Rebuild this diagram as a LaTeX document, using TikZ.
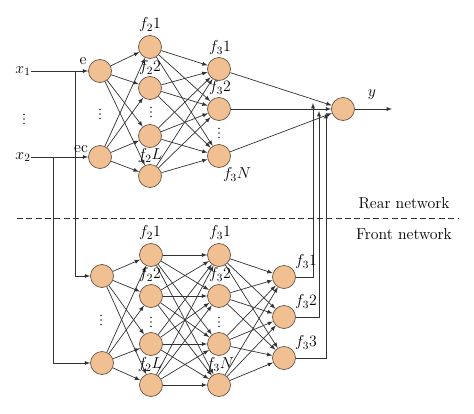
\documentclass[tikz,border=0pt]{standalone}
\usepackage{fix-cm}
\usepackage{tikz}
\usetikzlibrary{positioning}
\definecolor{nodefill}{RGB}{240,192,146}
\definecolor{nodeline}{RGB}{105,85,70}
\definecolor{wire}{RGB}{50,50,50}
\tikzset{
	neuron/.style={draw=nodeline, circle, inner sep=0pt, minimum size=0.69cm, fill=nodefill, line width=0.6pt},
	% labels next to the neurons
	lbl/.style={inner sep=0pt, font=\fontsize{13.5}{15}\selectfont},
	% three vertical dots between neurons
	vdots/.pic={\fill[wire] (0,-4.5) circle (0.8pt) (0,0) circle (0.8pt) (0,4.5) circle (0.8pt);},
}
\begin{document}
\begin{tikzpicture}[x=0.03cm, y=-0.03cm]
	\useasboundingbox (0,0) rectangle (474,413);
	
	% rear network
	\node (x1) [lbl] at (23,71) {$x_1$};
	\node (x2) [lbl] at (23,157) {$x_2$};
	\pic at (24,119) {vdots};
	
	\node (e) [neuron] at (100,71) {};
	\node (ec) [neuron] at (100,157) {};
	\pic at (100,114) {vdots};
	
	\node (r21) [neuron] at (150,47) {};
	\node (r22) [neuron] at (150,88) {};
	\node (r23) [neuron] at (150,136) {};
	\node (r2L) [neuron] at (150,176) {};
	\pic at (151,112) {vdots};
	
	\node (r31) [neuron] at (219,69) {};
	\node (r32) [neuron] at (219,109) {};
	\node (r3N) [neuron] at (219,156) {};
	\pic at (219,133) {vdots};
	
	\node (out) [neuron] at (343,109) {};
	\coordinate (yend) at (392,109);
	
	% front network
	\node (fi1) [neuron] at (102,276) {};
	\node (fi2) [neuron] at (102,363) {};
	\pic at (101,320) {vdots};
	
	\node (f21) [neuron] at (151,255) {};
	\node (f22) [neuron] at (151,296) {};
	\node (f23) [neuron] at (151,344) {};
	\node (f2L) [neuron] at (151,385) {};
	\pic at (151,322) {vdots};
	
	\node (f31) [neuron] at (219,255) {};
	\node (f32) [neuron] at (219,296) {};
	\node (f33) [neuron] at (219,344) {};
	\node (f3N) [neuron] at (219,385) {};
	\pic at (219,322) {vdots};
	
	\node (g1) [neuron] at (284,277) {};
	\node (g2) [neuron] at (284,317) {};
	\node (g3) [neuron] at (284,358) {};
	
	\coordinate (j1) at (75,71);
	\coordinate (j2) at (53,157);
	\coordinate (v1) at (313,103);
	\coordinate (v2) at (319,111);
	\coordinate (v3) at (326,113);
	
	\begin{scope}[wire, line width=0.6pt, ->, >=latex]
		\draw (x1.east) -- (e);
		\draw (x2.east) -- (ec);
		\draw[-] (j1) -- (j1 |- fi1.center);
		\draw (j1 |- fi1.center) -- (fi1);
		\draw[-] (j2) -- (j2 |- fi2.center);
		\draw (j2 |- fi2.center) -- (fi2);
		
		\draw (e) -- (r21);
		\draw (e) -- (r22);
		\draw (e) -- (r23);
		\draw (e) -- (r2L);
		\draw (ec) -- (r21);
		\draw (ec) -- (r22);
		\draw (ec) -- (r23);
		\draw (ec) -- (r2L);
		
		\draw (r21) -- (r31);
		\draw (r21) -- (r32);
		\draw (r21) -- (r3N);
		\draw (r22) -- (r31);
		\draw (r22) -- (r32);
		\draw (r22) -- (r3N);
		\draw (r23) -- (r31);
		\draw (r23) -- (r32);
		\draw (r23) -- (r3N);
		\draw (r2L) -- (r31);
		\draw (r2L) -- (r32);
		\draw (r2L) -- (r3N);
		
		\draw (r31) -- (out);
		\draw (r32) -- (out);
		\draw (r3N) -- (out);
		\draw (out) -- (yend);
		
		\draw (fi1) -- (f21);
		\draw (fi1) -- (f22);
		\draw (fi1) -- (f23);
		\draw (fi1) -- (f2L);
		\draw (fi2) -- (f21);
		\draw (fi2) -- (f22);
		\draw (fi2) -- (f23);
		\draw (fi2) -- (f2L);
		
		\draw (f21) -- (f31);
		\draw (f21) -- (f32);
		\draw (f21) -- (f33);
		\draw (f21) -- (f3N);
		\draw (f22) -- (f31);
		\draw (f22) -- (f32);
		\draw (f22) -- (f33);
		\draw (f22) -- (f3N);
		\draw (f23) -- (f31);
		\draw (f23) -- (f32);
		\draw (f23) -- (f33);
		\draw (f23) -- (f3N);
		\draw (f2L) -- (f31);
		\draw (f2L) -- (f32);
		\draw (f2L) -- (f33);
		\draw (f2L) -- (f3N);
		
		\draw (f31) -- (g1);
		\draw (f31) -- (g2);
		\draw (f31) -- (g3);
		\draw (f32) -- (g1);
		\draw (f32) -- (g2);
		\draw (f32) -- (g3);
		\draw (f33) -- (g1);
		\draw (f33) -- (g2);
		\draw (f33) -- (g3);
		\draw (f3N) -- (g1);
		\draw (f3N) -- (g2);
		\draw (f3N) -- (g3);
		
		\draw (g1) -| (v1);
		\draw (g2) -| (v2);
		\draw (g3) -| (v3);
	\end{scope}
	
	% labels
	\node (le) [lbl] at (83,61) {e};
	\node (lec) [lbl] at (81,149) {ec};
	\node (lr21) [lbl] at (150,25) {$f_2 1$};
	\node (lr22) [lbl] at (150,68) {$f_2 2$};
	\node (lr2L) [lbl] at (150,156) {$f_2 L$};
	\node (lr31) [lbl] at (220,48) {$f_3 1$};
	\node (lr32) [lbl] at (220,88) {$f_3 2$};
	\node (lr3N) [lbl] at (237,175) {$f_3 N$};
	\node (ly) [lbl] at (372,95) {$y$};
	
	\node (lf21) [lbl] at (150,233) {$f_2 1$};
	\node (lf22) [lbl] at (150,275) {$f_2 2$};
	\node (lf2L) [lbl] at (150,365) {$f_2 L$};
	\node (lf31) [lbl] at (220,233) {$f_3 1$};
	\node (lf32) [lbl] at (220,275) {$f_3 2$};
	\node (lf3N) [lbl] at (220,365) {$f_3 N$};
	\node (lg1) [lbl] at (306,262) {$f_3 1$};
	\node (lg2) [lbl] at (306,302) {$f_3 2$};
	\node (lg3) [lbl] at (306,343) {$f_3 3$};
	
	\draw[wire, dashed, line width=0.6pt, dash pattern=on 5pt off 3pt] (17,218) -- (458,218);
	\node (rear) [lbl] at (404,203) {Rear network};
	\node (front) [lbl] at (404,234) {Front network};
\end{tikzpicture}
\end{document}
